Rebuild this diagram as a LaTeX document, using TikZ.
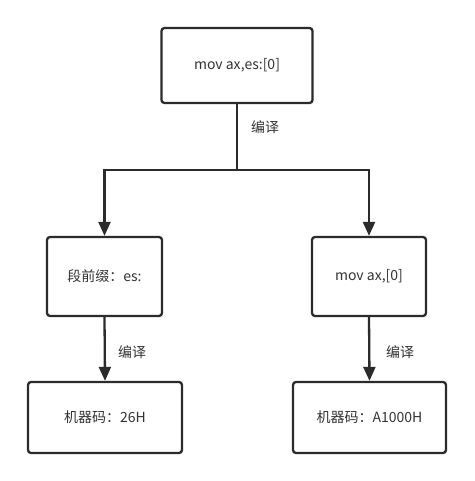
\documentclass[tikz,border=0pt]{standalone}
\usepackage{fontspec}
\setmainfont{Noto Sans CJK SC}
\usetikzlibrary{arrows.meta}
\definecolor{ln}{HTML}{2B2B2B}
\definecolor{tx}{HTML}{333333}
\begin{document}
\begin{tikzpicture}[x=1pt,y=-1pt,
  box/.style={draw=ln,line width=2.3pt,rounded corners=3pt,fill=white,text=tx,font=\fontsize{14}{17}\selectfont,inner sep=0pt},
  conn/.style={draw=ln,line width=2.3pt},
  arr/.style={conn,-{Triangle[length=14pt,width=12pt]}},
  lbl/.style={text=tx,font=\fontsize{14}{17}\selectfont}]
\useasboundingbox (0,0) rectangle (474,481);
\node[box,minimum width=151pt,minimum height=75pt] (top) at (237,65.5) {mov ax,es:[0]};
\node[box,minimum width=115pt,minimum height=79pt] (lm) at (104.5,276.5) {段前缀：es:};
\node[box,minimum width=114pt,minimum height=79pt] (rm) at (369,276.5) {mov ax,[0]};
\node[box,minimum width=154pt,minimum height=71pt] (lb) at (105,417.5) {机器码：26H};
\node[box,minimum width=153pt,minimum height=71pt] (rb) at (369.5,417.5) {机器码：A1000H};
\coordinate (j) at (237,170);
\draw[conn] (top.south) -- (j);
\draw[arr] (j) -| (lm.north);
\draw[arr] (j) -| (rm.north);
\draw[arr] (lm.south) -- (lb.north);
\draw[arr] (rm.south) -- (rb.north);
\node[lbl] (l1) at (265,127) {编译};
\node[lbl] (l2) at (132,352) {编译};
\node[lbl] (l3) at (400,352) {编译};
\end{tikzpicture}
\end{document}
